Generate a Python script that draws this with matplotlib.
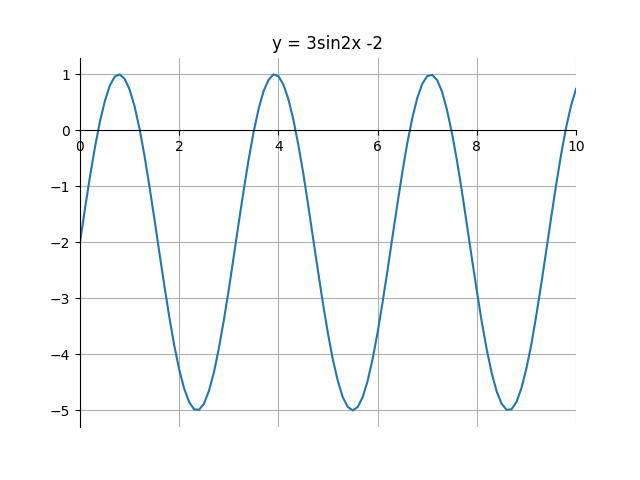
import numpy as np
import matplotlib
matplotlib.use("Agg")
import matplotlib.pyplot as plt

# samples of y = 3sin2x - 2 at steps of 0.1
x_values = [i / 10 for i in range(101)]
y_values = [
    -2.00, -1.40, -0.83, -0.31, 0.15, 0.52, 0.80, 0.96, 1.00, 0.92,
    0.73, 0.43, 0.03, -0.45, -1.00, -1.58, -2.18, -2.77, -3.33, -3.84,
    -4.27, -4.61, -4.85, -4.98, -4.99, -4.88, -4.65, -4.32, -3.89, -3.39,
    -2.84, -2.25, -1.65, -1.07, -0.52, -0.03, 0.38, 0.70, 0.90, 1.00,
    0.97, 0.82, 0.56, 0.20, -0.25, -0.76, -1.33, -1.93, -2.52, -3.10,
    -3.63, -4.10, -4.48, -4.77, -4.94, -5.00, -4.94, -4.76, -4.47, -4.08,
    -3.61, -3.07, -2.50, -1.90, -1.31, -0.74, -0.22, 0.22, 0.58, 0.83,
    0.97, 0.99, 0.90, 0.69, 0.36, -0.05, -0.54, -1.09, -1.68, -2.28,
    -2.86, -3.42, -3.91, -4.33, -4.66, -4.88, -4.99, -4.98, -4.85, -4.60,
    -4.25, -3.82, -3.30, -2.74, -2.15, -1.55, -0.97, -0.43, 0.05, 0.44,
    0.74,
]
title = "y = 3sin2x -2"

fig = plt.figure(figsize=(6.4, 4.8), dpi=100)
ax = fig.add_subplot(111)
ax.plot(x_values, y_values)
ax.set_xlim(0, 10)
ax.set_title(title)

ax.spines["right"].set_color("none")
ax.spines["top"].set_color("none")
ax.spines["bottom"].set_position(("data", 0))
ax.spines["left"].set_position(("data", 0))
ax.grid()

fig.savefig("out.png", dpi=100)
